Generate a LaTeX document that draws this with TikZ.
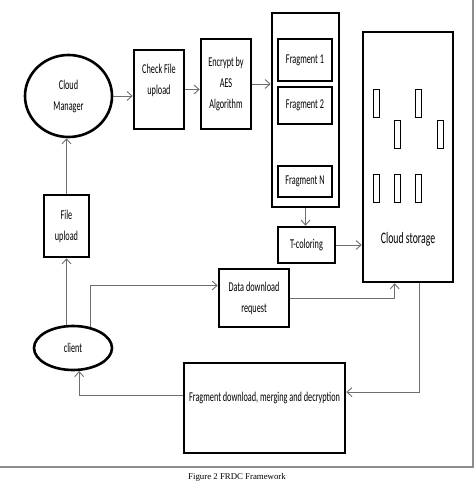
\documentclass[tikz,border=0pt]{standalone}
\usepackage{fontspec}
\usepackage{tikz}
\usetikzlibrary{arrows.meta, positioning, shapes.geometric}
\newfontfamily\diagfont[FakeStretch=0.61]{Carlito}
\newfontfamily\capfont{Liberation Serif}
\definecolor{linkgray}{RGB}{110, 110, 110}
\definecolor{framegray}{RGB}{140, 140, 140}

\begin{document}
\begin{tikzpicture}[x=1pt, y=-1pt,
  box/.style={draw, line width=2.6pt, align=center, inner sep=1pt,
    font=\diagfont\fontsize{13.5}{21}\selectfont},
  oval/.style={box, ellipse},
  fragbox/.style={box, minimum width=54pt},
  slot/.style={draw, line width=0.9pt, minimum width=6pt, minimum height=28pt, inner sep=0pt},
  link/.style={draw=linkgray, line width=0.9pt, -{Straight Barb[length=5pt, width=9pt]}},
]
  \useasboundingbox (0,0) rectangle (474,481);

  % Frame and caption
  \draw[framegray, line width=1.4pt] (473,0) -- (473,467) -- (0,467);
  \node[font=\capfont\fontsize{8.8}{10}\selectfont] (caption) at (237,477) {Figure 2 FRDC Framework};

  % Upload side
  \node[oval, minimum width=87pt, minimum height=82pt] (cm) at (68.5,96) {Cloud\\Manager};
  \node[box, minimum width=50pt, minimum height=79pt] (check) at (159,89.5) {Check File\\upload\\\mbox{}};
  \node[box, minimum width=50pt, minimum height=90pt] (encrypt) at (226,84) {Encrypt by\\AES\\Algorithm};

  % Fragments
  \node[box, minimum width=67pt, minimum height=194pt] (frag) at (305.5,110) {};
  \node[fragbox, minimum height=42pt] (f1) at (305,60) {Fragment 1};
  \node[fragbox, minimum height=37pt] (f2) at (305,105.5) {Fragment 2};
  \node[fragbox, minimum height=31pt] (fn) at (305,181.5) {Fragment N};
  \node[box, minimum width=57pt, minimum height=36pt] (tcol) at (306.5,245) {T-coloring};

  % Cloud storage
  \node[box, minimum width=90pt, minimum height=250pt] (cs) at (408,157) {};
  \node[font=\diagfont\fontsize{16}{18}\selectfont] (cslabel) at (408,239) {Cloud storage};
  \foreach \x/\y [count=\i] in {376/103, 418.5/103, 397.5/134.5, 440/134.5,
                               376/188.5, 397.5/188.5, 418.5/188.5} {
    \node[slot] (s\i) at (\x,\y) {};
  }

  % Client side
  \node[box, minimum width=45pt, minimum height=62pt] (fu) at (66.5,226) {File\\upload};
  \node[oval, minimum width=78pt, minimum height=44pt] (client) at (73,348) {client};
  \node[box, minimum width=70pt, minimum height=58pt] (ddr) at (254,298) {Data download\\request};
  \node[box, minimum width=161pt, minimum height=90pt] (fdl) at (264.5,408) {};
  \node[font=\diagfont\fontsize{13.5}{16}\selectfont] (fdllabel) at (264.5,398)
    {Fragment download, merging and decryption};

  % Connectors
  \draw[link] (cm.east) -- (cm.east -| check.west);
  \draw[link] (check.east) -- (check.east -| encrypt.west);
  \draw[link] (encrypt.east) -- (encrypt.east -| frag.west);
  \draw[link] (frag.south) -- (frag.south |- tcol.north);
  \draw[link] (tcol.east) -- (tcol.east -| cs.west);
  \draw[link] (fu.north) -- (fu.north |- cm.south);
  \draw[link] (fu.south |- client.north) -- (fu.south);
  \draw[link] (client.51) |- (ddr.161);
  \draw[link] (ddr.east) -| (cs.264);
  \draw[link] (cs.275) |- (fdl.11);
  \draw[link] (fdl.171) -| (client.285);

\end{tikzpicture}
\end{document}
